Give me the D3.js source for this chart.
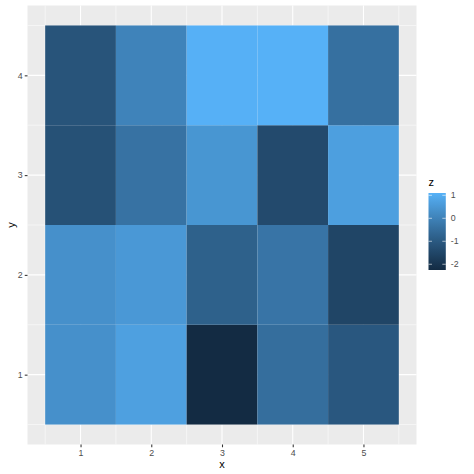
<!DOCTYPE html>
<html><head><meta charset="utf-8">
<script src="https://cdn.jsdelivr.net/npm/d3@7"></script>
<style>body{margin:0;background:#fff}svg{display:block}text{font-family:"Liberation Sans",Arial,sans-serif}</style>
</head><body><svg id="c" width="474" height="474"></svg>
<script>
const xCats = [1, 2, 3, 4, 5];
const yCats = [1, 2, 3, 4];
// z values by row (y=1..4), columns x=1..5
const zRow1 = [0.35, 0.71, -2.25, -0.49, -1.05];
const zRow2 = [0.35, 0.53, -0.81, -0.32, -1.53];
const zRow3 = [-1.22, -0.38, 0.47, -1.39, 0.69];
const zRow4 = [-1.14, 0.04, 1.08, 1.10, -0.43];
const legendTicks = [1, 0, -1, -2];

const rows = [zRow1, zRow2, zRow3, zRow4];
const cells = [];
rows.forEach((r, i) => r.forEach((z, j) => cells.push({x: xCats[j], y: yCats[i], z})));

const svg = d3.select("#c");
const pl = 27.5, pr = 416.5, pt = 5.5, pb = 444.5;

const x = d3.scaleLinear().domain([0.25, 5.75]).range([pl, pr]);
const y = d3.scaleLinear().domain([0.3, 4.7]).range([pb, pt]);
const zExt = d3.extent(cells, d => d.z);
const color = d3.scaleLinear().domain(zExt).range(["#132B43", "#56B1F7"]).interpolate(d3.interpolateLab);

svg.append("rect").attr("x", pl).attr("y", pt).attr("width", pr - pl).attr("height", pb - pt).attr("fill", "#EBEBEB");
const g = svg.append("g");
[0.5,1.5,2.5,3.5,4.5,5.5].forEach(v => g.append("line").attr("x1", x(v)).attr("x2", x(v)).attr("y1", pt).attr("y2", pb).attr("stroke", "#fff").attr("stroke-width", 0.53));
[0.5,1.5,2.5,3.5,4.5].forEach(v => g.append("line").attr("y1", y(v)).attr("y2", y(v)).attr("x1", pl).attr("x2", pr).attr("stroke", "#fff").attr("stroke-width", 0.53));
xCats.forEach(v => g.append("line").attr("x1", x(v)).attr("x2", x(v)).attr("y1", pt).attr("y2", pb).attr("stroke", "#fff").attr("stroke-width", 1.07));
yCats.forEach(v => g.append("line").attr("y1", y(v)).attr("y2", y(v)).attr("x1", pl).attr("x2", pr).attr("stroke", "#fff").attr("stroke-width", 1.07));

svg.append("g").selectAll("rect").data(cells).join("rect")
  .attr("x", d => x(d.x - 0.5)).attr("y", d => y(d.y + 0.5))
  .attr("width", d => x(d.x + 0.5) - x(d.x - 0.5))
  .attr("height", d => y(d.y - 0.5) - y(d.y + 0.5))
  .attr("fill", d => color(d.z));

const xa = svg.append("g").attr("transform", `translate(0,${pb})`)
  .call(d3.axisBottom(x).tickValues(xCats).tickSize(2.75).tickPadding(2.2).tickFormat(d3.format("d")));
const ya = svg.append("g").attr("transform", `translate(${pl},0)`)
  .call(d3.axisLeft(y).tickValues(yCats).tickSize(2.75).tickPadding(2.2).tickFormat(d3.format("d")));
[xa, ya].forEach(a => {
  a.select(".domain").remove();
  a.selectAll(".tick line").attr("stroke", "#333333").attr("stroke-width", 1.07);
  a.selectAll(".tick text").attr("fill", "#4D4D4D").attr("font-size", 8.8).attr("font-family", '"Liberation Sans",Arial,sans-serif');
});

svg.append("text").attr("x", (pl + pr) / 2).attr("y", 468).attr("text-anchor", "middle").attr("font-size", 11).attr("fill", "#000").text("x");
svg.append("text").attr("transform", `translate(15,${(pt + pb) / 2}) rotate(-90)`).attr("text-anchor", "middle").attr("font-size", 11).attr("fill", "#000").text("y");

const lx = 428.5, lw = 17.3, ltop = 193, lbot = 270;
svg.append("text").attr("x", lx).attr("y", ltop - 7).attr("font-size", 11).text("z");
const ly = d3.scaleLinear().domain(zExt).range([lbot, ltop]);
const defs = svg.append("defs");
const grad = defs.append("linearGradient").attr("id", "lg").attr("x1", 0).attr("x2", 0).attr("y1", 1).attr("y2", 0);
d3.range(0, 1.0001, 0.05).forEach(t => grad.append("stop").attr("offset", t).attr("stop-color", color(zExt[0] + t * (zExt[1] - zExt[0]))));
svg.append("rect").attr("x", lx).attr("y", ltop).attr("width", lw).attr("height", lbot - ltop).attr("fill", "url(#lg)");
legendTicks.forEach(v => {
  const yy = ly(v);
  svg.append("line").attr("x1", lx).attr("x2", lx + lw / 5).attr("y1", yy).attr("y2", yy).attr("stroke", "#fff").attr("stroke-width", 0.6);
  svg.append("line").attr("x1", lx + lw - lw / 5).attr("x2", lx + lw).attr("y1", yy).attr("y2", yy).attr("stroke", "#fff").attr("stroke-width", 0.6);
  svg.append("text").attr("x", lx + lw + 5).attr("y", yy).attr("dy", "0.35em").attr("font-size", 8.8).attr("fill", "#4D4D4D").text(v);
});
</script></body></html>
